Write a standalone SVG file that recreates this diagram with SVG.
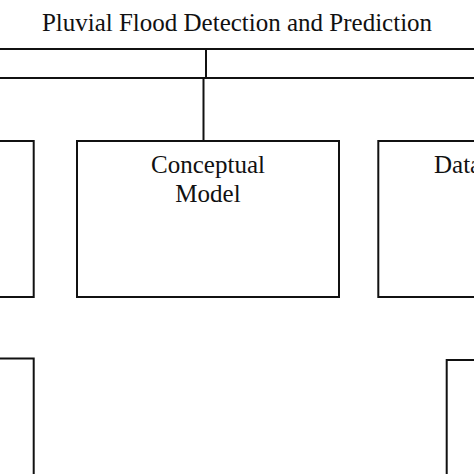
<svg xmlns="http://www.w3.org/2000/svg" width="474" height="474" viewBox="0 0 474 474">
<style>
.box{fill:#fff;stroke:#111;stroke-width:2}
.ln{stroke:#111;stroke-width:2;fill:none}
text{font-family:"Liberation Serif","Times New Roman",serif;font-size:25px;fill:#111}
</style>
<rect width="474" height="474" fill="#fff"/>
<g id="title"><text x="237" y="31" text-anchor="middle">Pluvial Flood Detection and Prediction</text></g>
<g id="connectors">
<line class="ln" x1="-5" y1="49" x2="480" y2="49"/>
<line class="ln" x1="-5" y1="78" x2="480" y2="78"/>
<line class="ln" x1="206" y1="49" x2="206" y2="78"/>
<line class="ln" x1="203.5" y1="78" x2="203.5" y2="141"/>
</g>
<g id="node-left"><rect class="box" x="-20" y="141" width="53.7" height="156"/></g>
<g id="node-conceptual"><rect class="box" x="77" y="141" width="262" height="156"/>
<text x="208" y="173" text-anchor="middle">Conceptual</text>
<text x="208" y="202" text-anchor="middle">Model</text></g>
<g id="node-data"><rect class="box" x="378.3" y="141" width="120" height="156"/>
<text x="434" y="173">Data</text></g>
<g id="node-bottom-left"><rect class="box" x="-20" y="358.5" width="53.7" height="140"/></g>
<g id="node-bottom-right"><rect class="box" x="446.7" y="360" width="60" height="140"/></g>
</svg>
